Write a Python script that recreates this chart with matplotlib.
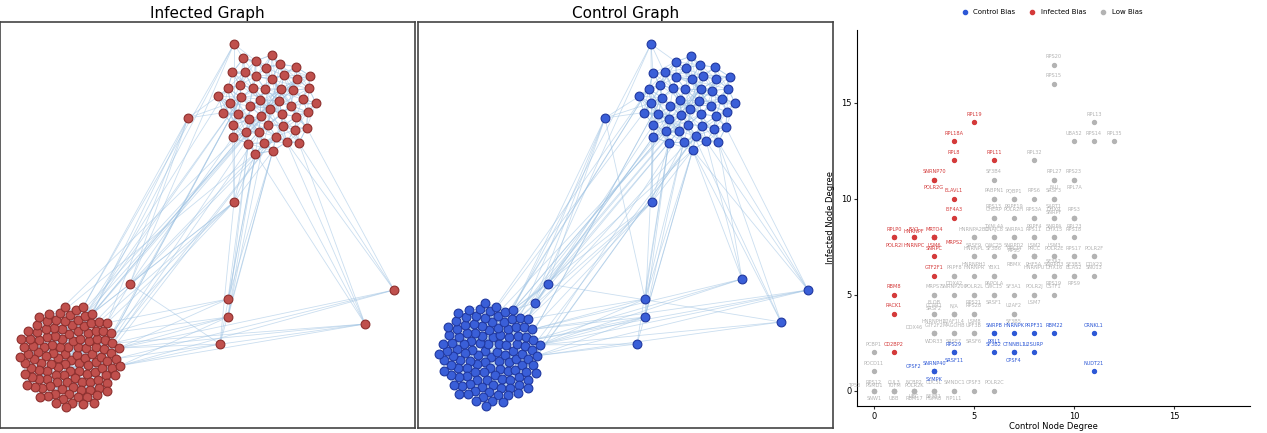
import numpy as np
import matplotlib.pyplot as plt
from matplotlib.collections import LineCollection

# ---- scatter data: (gene, control degree, infected degree) ----
infected_bias = [
    ("RPL19", 5, 14), ("RPL18A", 4, 13), ("RPL8", 4, 12), ("RPL11", 6, 12),
    ("SNRNP70", 3, 11), ("POLR2G", 3, 11), ("ELAVL1", 4, 10), ("EIF4A3", 4, 9),
    ("RPLP0", 1, 8), ("POLR2I", 1, 8), ("ISY1", 2, 8), ("HNRNPC", 2, 8),
    ("MRTO4", 3, 8), ("LSM6", 3, 8), ("HNRNPF", 3, 8), ("MRPS2", 3, 8),
    ("SNRPC", 3, 7), ("GTF2F1", 3, 6), ("RBM8", 1, 5), ("RACK1", 1, 4),
    ("CD2BP2", 1, 2),
]
control_bias = [
    ("SNRPB", 6, 3), ("PPIL1", 6, 3), ("HNRNPK", 7, 3), ("PRPF31", 8, 3),
    ("RBM22", 9, 3), ("CRNKL1", 11, 3), ("RPS29", 4, 2), ("SRSF11", 4, 2),
    ("SF3B2", 6, 2), ("CTNNBL1", 7, 2), ("CPSF4", 7, 2), ("U2SURP", 8, 2),
    ("SNRNP40", 3, 1), ("SYMPK", 3, 1), ("CPSF2", 3, 1), ("NUDT21", 11, 1),
]
low_bias = [
    ("RPS20", 9, 17), ("RPS15", 9, 16), ("RPL13", 11, 14), ("UBA52", 10, 13),
    ("RPS14", 11, 13), ("RPL35", 12, 13), ("RPL32", 8, 12), ("SF3B4", 6, 11),
    ("RPL27", 9, 11), ("FAU", 9, 11), ("RPS23", 10, 11), ("RPL7A", 10, 11),
    ("PABPN1", 6, 10), ("RPS13", 6, 10), ("PQBP1", 7, 10), ("PRPF19", 7, 10),
    ("RPS6", 8, 10), ("SRSF3", 9, 10), ("SART1", 9, 10),
    ("CHERP", 6, 9), ("TXNL4A", 6, 9), ("POLR2H", 7, 9), ("RPS3A", 8, 9),
    ("PRPF4", 8, 9), ("DHX9", 9, 9), ("SNRPA", 9, 9), ("RPS3", 10, 9),
    ("RPL23", 10, 9), ("SNRPF", 10, 9),
    ("HNRNPA2B1", 5, 8), ("SRSF9", 5, 8), ("DNAJC8", 6, 8), ("CWC25", 6, 8),
    ("SNRPA1", 7, 8), ("SNRPD2", 7, 8), ("RPS11", 8, 8), ("LSM2", 8, 8),
    ("DHX15", 9, 8), ("LSM3", 9, 8), ("RPS18", 10, 8),
    ("HNRNPL", 5, 7), ("HNRNPH1", 5, 7), ("SF3B6", 6, 7), ("RPL24", 7, 7),
    ("RBMX", 7, 7), ("PRCC", 8, 7), ("PHF5A", 8, 7), ("RPS5", 8, 7),
    ("SF3A2", 8, 7), ("POLR2E", 9, 7), ("SNRPD3", 9, 7), ("RPS17", 10, 7),
    ("SF3B3", 10, 7), ("POLR2F", 11, 7), ("DDX23", 11, 7),
    ("PRPF8", 4, 6), ("DDX42", 4, 6), ("HNRNPR", 5, 6), ("YBX1", 6, 6),
    ("PAPOLA", 6, 6), ("HNRNPU", 8, 6), ("DHX16", 9, 6), ("RPS19", 9, 6),
    ("BCAS2", 10, 6), ("RPS9", 10, 6), ("SNU13", 11, 6),
    ("MRPS7", 3, 5), ("ELOB", 3, 5), ("SNRNP200", 4, 5), ("POLR2L", 5, 5),
    ("RPS21", 5, 5), ("CWC15", 6, 5), ("SRSF1", 6, 5), ("SF3A1", 7, 5),
    ("POLR2J", 8, 5), ("LSM7", 8, 5), ("CSTF1", 9, 5),
    ("CCAR1", 3, 4), ("HNRNPH2", 3, 4), ("N/A", 4, 4), ("U2AF1L4", 4, 4),
    ("SRSF2", 4, 4), ("RPS28", 5, 4), ("LSM8", 5, 4), ("U2AF2", 7, 4),
    ("SF3B5", 7, 4),
    ("GTF2F2", 3, 3), ("WDR33", 3, 3), ("DDX46", 3, 3), ("MAGOHB", 4, 3),
    ("SRSF7", 4, 3), ("UPF3B", 5, 3), ("SRSF6", 5, 3),
    ("PCBP1", 0, 2), ("PDCD11", 0, 1),
    ("RPS12", 0, 0), ("SNW1", 0, 0), ("TP53", 0, 0), ("CUL3", 1, 0),
    ("UBB", 1, 0), ("PSMD1", 1, 0), ("UBC", 1, 0), ("NCBP2", 2, 0),
    ("RBM17", 2, 0), ("TUFM", 2, 0), ("SF3B1", 2, 0), ("CDC5L", 3, 0),
    ("HSPA8", 3, 0), ("POLR2K", 3, 0), ("SMNDC1", 4, 0), ("FIP1L1", 4, 0),
    ("CPSF3", 5, 0), ("POLR2C", 6, 0),
]

# ---- network data: node clusters (center x, center y, radius, count) ----
infected_clusters = [(268, 82, 52, 52), (70, 335, 52, 125)]
infected_extra = [(234, 22), (188, 96), (234, 180), (130, 262), (228, 277),
                  (228, 295), (220, 322), (394, 268), (365, 302)]
infected_bridges = [(0, 2), (2, 3), (0, 3), (3, 6), (1, 3), (2, 6)]
control_clusters = [(688, 82, 50, 50), (490, 332, 52, 120)]
control_extra = [(651, 22), (605, 96), (652, 180), (548, 262), (645, 277),
                 (645, 295), (637, 322), (742, 257), (808, 268), (781, 300),
                 (535, 281)]
control_bridges = [(1, 3), (3, 9), (9, 0), (4, 1), (3, 10), (0, 2)]

RED, BLUE, GREY = "#d43a3a", "#2d58d6", "#b3b3b3"


def sunflower(cx, cy, r, n):
    k = np.arange(n) + 0.5
    rr = r * np.sqrt(k / n)
    th = k * np.pi * (3 - np.sqrt(5))
    return np.column_stack([cx + rr * np.cos(th), cy + rr * np.sin(th)])


def draw_graph(ax, clusters, extra, bridges, face, edge, x0):
    groups = [sunflower(*c) for c in clusters]
    segs = []
    for pts in groups:
        d = np.linalg.norm(pts[:, None] - pts[None], axis=2)
        for i in range(len(pts)):
            order = np.argsort(d[i])
            for j in order[1:7]:
                segs.append([pts[i], pts[j]])
            segs.append([pts[i], pts[order[len(pts) // 2 + i % 9]]])
    ex = np.array(extra, dtype=float)
    for k, p in enumerate(ex):
        for g in groups:
            idx = np.argsort(np.linalg.norm(g - p, axis=1))[:2 + k % 3]
            for j in idx:
                segs.append([p, g[j]])
    for a, b in bridges:
        for j in range(3):
            segs.append([groups[0][(a + j) * 7 % len(groups[0])],
                         groups[1][(b + j) * 11 % len(groups[1])]])
        segs.append([ex[a], ex[b]])
    ax.add_collection(LineCollection(segs, colors="#9fc3e3", linewidths=0.6,
                                     alpha=0.55, zorder=1))
    allpts = np.vstack(groups + [ex])
    ax.scatter(allpts[:, 0], allpts[:, 1], s=40, c=face, edgecolors=edge,
               linewidths=0.8, zorder=2)
    ax.set_xlim(x0, x0 + 415)
    ax.set_ylim(406, 0)
    ax.set_xticks([])
    ax.set_yticks([])
    for s in ax.spines.values():
        s.set_color("#444444")
        s.set_linewidth(1.2)


fig = plt.figure(figsize=(12.67, 4.33), dpi=100)
W, H = 1267, 433

ax1 = fig.add_axes([0 / W, 1 - 428 / H, 415 / W, 406 / H])
draw_graph(ax1, infected_clusters, infected_extra, infected_bridges,
           "#c0504d", "#8e2f2d", 0)
ax1.set_title("Infected Graph", fontsize=11, pad=3)
ax2 = fig.add_axes([418 / W, 1 - 428 / H, 415 / W, 406 / H])
draw_graph(ax2, control_clusters, control_extra, control_bridges,
           "#3a5fd8", "#2038a0", 418)
ax2.set_title("Control Graph", fontsize=11, pad=3)

# ---- scatter ----
ax3 = fig.add_axes([857 / W, 1 - 406 / H, 393 / W, 376 / H])
offsets = [(0, 0.42), (0, -0.42), (-1.0, 0.28), (1.0, -0.28), (-1.0, -0.4),
           (1.0, 0.4)]
for data, col in [(low_bias, GREY), (infected_bias, RED), (control_bias, BLUE)]:
    xs = [d[1] for d in data]
    ys = [d[2] for d in data]
    ax3.scatter(xs, ys, s=8, c=col, zorder=3)
    seen = {}
    for name, x, y in data:
        k = seen.get((x, y), 0)
        seen[(x, y)] = k + 1
        dx, dy = offsets[k % len(offsets)]
        ax3.text(x + dx, y + dy, name, fontsize=3.6, color=col,
                 ha="center", va="center")
ax3.set_xlim(-0.85, 18.8)
ax3.set_ylim(-0.8, 18.8)
ax3.set_xticks([0, 5, 10, 15])
ax3.set_yticks([0, 5, 10, 15])
ax3.tick_params(labelsize=6, length=2.5, pad=1.5, color="#333333")
for s in ["top", "right"]:
    ax3.spines[s].set_visible(False)
ax3.set_xlabel("Control Node Degree", fontsize=6, labelpad=1)
ax3.set_ylabel("Infected Node Degree", fontsize=6, labelpad=4)

handles = [plt.Line2D([], [], marker="o", ls="", color=c, markersize=3)
           for c in (BLUE, RED, GREY)]
fig.legend(handles, ["Control Bias", "Infected Bias", "Low Bias"],
           loc="center", bbox_to_anchor=(1050 / W, 1 - 12 / H), ncol=3,
           frameon=False, fontsize=5, handletextpad=0.2, columnspacing=1.5)

fig.savefig("out.png", dpi=100)
